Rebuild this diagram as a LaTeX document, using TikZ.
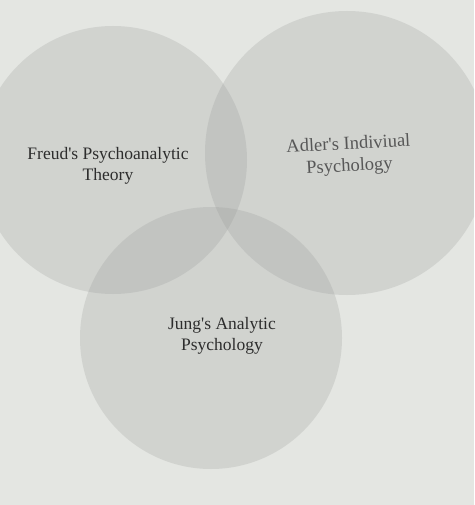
\documentclass[tikz,border=0pt]{standalone}
\usepackage{fontspec}
\setmainfont{Liberation Serif}
\definecolor{paper}{RGB}{228,230,226}
\definecolor{disc}{RGB}{150,152,150}
\definecolor{ink}{RGB}{45,45,45}

\begin{document}
\begin{tikzpicture}[x=1pt,y=-1pt]
\tikzstyle{every node}+=[inner sep=0pt]
\tikzset{
  set/.style={circle,fill=disc,fill opacity=0.24,draw=none},
  setlabel/.style={align=center,text=ink,font=\fontsize{17.5}{20.5}\selectfont}
}
\useasboundingbox (0,0) rectangle (474,505);
\clip (0,0) rectangle (474,505);
\fill [paper] (0,0) rectangle (474,505);
% the three sets
\node [set,minimum size=268pt] (freud) at (113,160) {};
\node [set,minimum size=284pt] (adler) at (347,153) {};
\node [set,minimum size=262pt] (jung) at (211,338) {};
% labels
\node [setlabel] (freudtext) at (108,166) {Freud\textquotesingle s Psychoanalytic\\Theory};
\node [setlabel,rotate=3,font=\fontsize{18.5}{22}\selectfont,text=ink!80] (adlertext) at (349,156) {Adler\textquotesingle s Indiviual\\Psychology};
\node [setlabel] (jungtext) at (222,336) {Jung\textquotesingle s Analytic\\Psychology};
\end{tikzpicture}
\end{document}
